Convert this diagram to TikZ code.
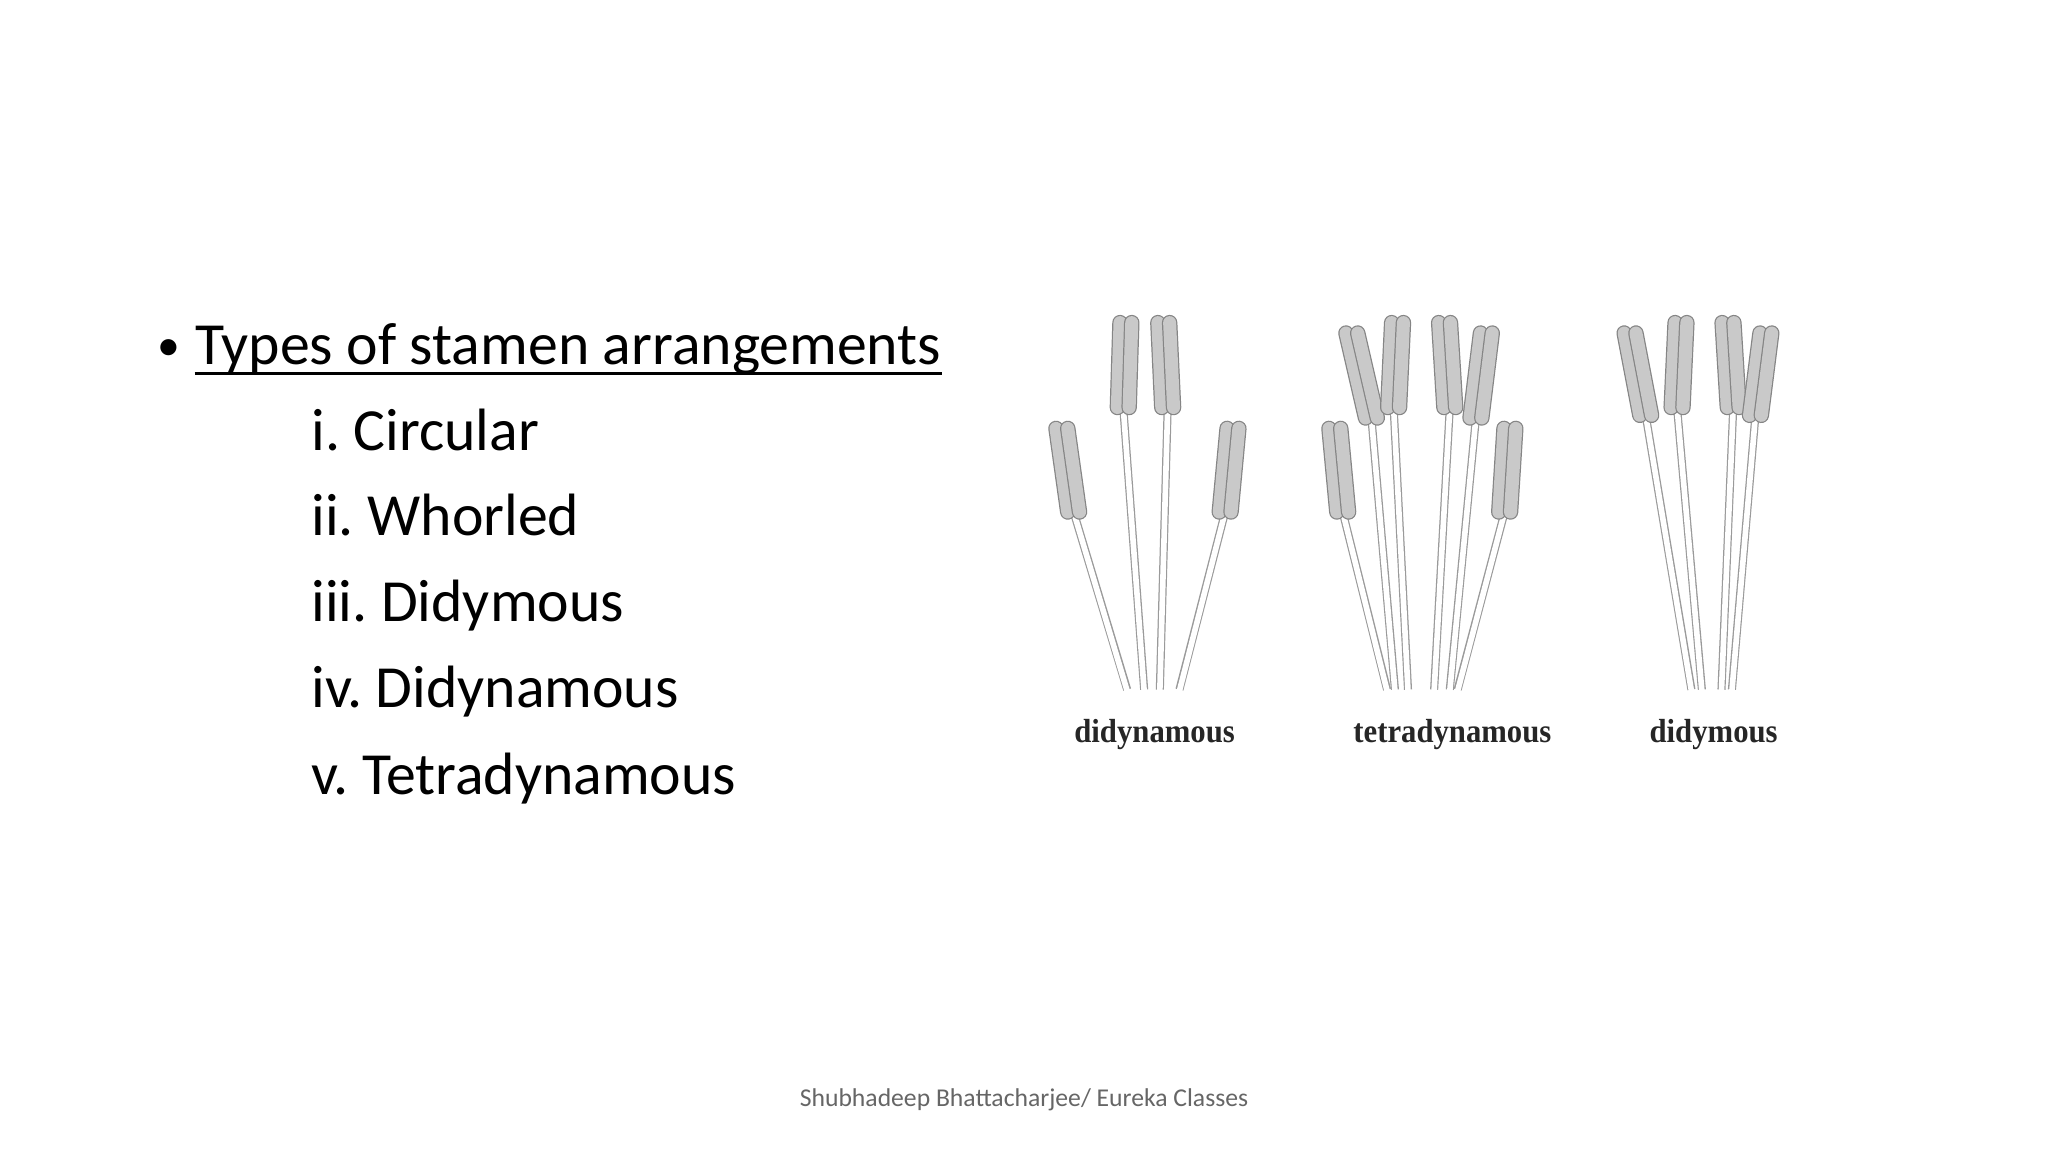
\documentclass[tikz,border=0pt]{standalone}
\usepackage{fontspec}
\setmainfont{Carlito}
\newfontfamily\labfont{Liberation Serif}
\definecolor{antherfill}{HTML}{C9C9C9}
\definecolor{antherline}{HTML}{858585}
\definecolor{filline}{HTML}{9A9A9A}
\tikzset{
  bodytext/.style={anchor=base west,inner sep=0pt,font=\frenchspacing\fontsize{17}{20}\selectfont},
  labtext/.style={inner sep=0pt,font=\labfont\bfseries\fontsize{9.5}{11}\selectfont,text=black!85,xscale=0.92},
}
% \stamen{base}{anther bottom}{anther top}
\newcommand{\stamen}[3]{%
  \draw[filline,line width=2.3pt] (#1) -- (#2);
  \draw[white,line width=1.6pt] ($(#1)+(0,1)$) -- (#2);
  \draw[antherline,line width=4.4pt,line cap=round] ($(#2)+(-4.5,0)$) -- ($(#3)+(-4.5,0)$);
  \draw[antherfill,line width=3.7pt,line cap=round] ($(#2)+(-4.5,0)$) -- ($(#3)+(-4.5,0)$);
  \draw[antherline,line width=4.4pt,line cap=round] ($(#2)+(4.5,0)$) -- ($(#3)+(4.5,0)$);
  \draw[antherfill,line width=3.7pt,line cap=round] ($(#2)+(4.5,0)$) -- ($(#3)+(4.5,0)$);
}
\usetikzlibrary{calc}
\begin{document}
\begin{tikzpicture}[x=0.01306cm,y=-0.01306cm]
\useasboundingbox[fill=white] (0,0) rectangle (1568,882);
% text
\node[bodytext,font=\fontsize{13}{15}\selectfont] (bul) at (120,276) {•};
\node[bodytext] (title) at (149,279) {Types of stamen arrangements};
\draw[line width=0.9pt] (title.west |- 0,286) -- (title.east |- 0,286);
\node[bodytext] (i1) at (238,345) {i. Circular};
\node[bodytext] (i2) at (238,410) {ii. Whorled};
\node[bodytext] (i3) at (238,476) {iii. Didymous};
\node[bodytext] (i4) at (238,542) {iv. Didynamous};
\node[bodytext] (i5) at (238,608) {v. Tetradynamous};
\node[inner sep=0pt,font=\fontsize{7.3}{8}\selectfont,text=black!60] (foot) at (784,842) {Shubhadeep Bhattacharjee/ Eureka Classes};
% didynamous
\stamen{863,528}{822,392}{813,328}
\stamen{876,528}{860,312}{862,247}
\stamen{888,528}{894,312}{891,247}
\stamen{903,528}{938,392}{944,328}
% tetradynamous
\stamen{1068,528}{1050,320}{1035,255}
\stamen{1078,528}{1067,312}{1070,247}
\stamen{1098,528}{1110,312}{1106,247}
\stamen{1110,528}{1130,320}{1138,255}
\stamen{1062,528}{1028,392}{1022,328}
\stamen{1116,528}{1152,392}{1156,328}
% didymous
\stamen{1295,528}{1260,318}{1248,255}
\stamen{1303,528}{1284,312}{1287,247}
\stamen{1318,528}{1327,312}{1323,247}
\stamen{1326,528}{1344,318}{1352,255}
% labels
\node[labtext] (l1) at (884,562) {didynamous};
\node[labtext] (l2) at (1112,562) {tetradynamous};
\node[labtext] (l3) at (1312,562) {didymous};
\end{tikzpicture}
\end{document}
